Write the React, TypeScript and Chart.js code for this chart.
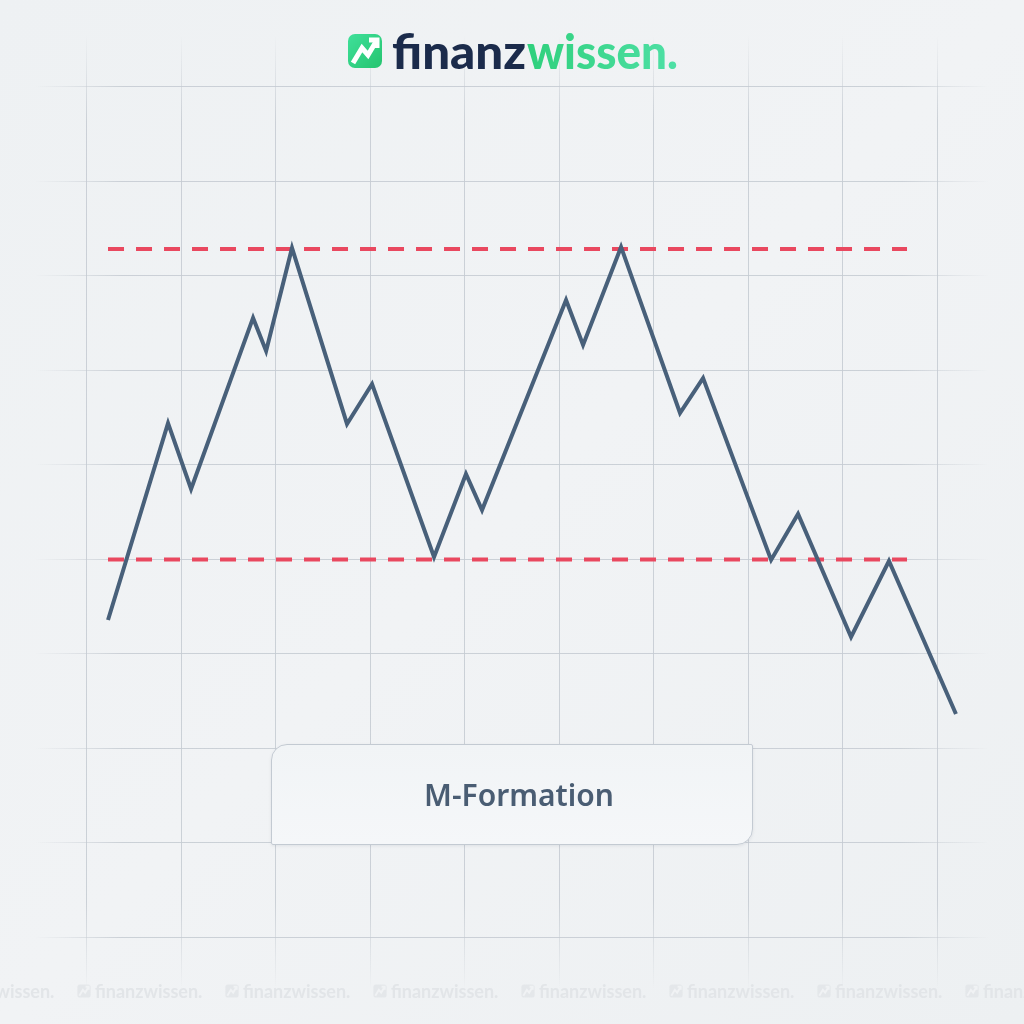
import React, { useEffect, useRef } from "react";
import { Chart, registerables } from "chart.js";

Chart.register(...registerables);

// ---- data ----
const timeValues = [0.225, 0.86, 1.104, 1.76, 1.898, 2.172, 2.754, 3.019, 3.675, 4.013, 4.183, 5.072, 5.252, 5.654, 6.278, 6.522, 7.242, 7.527, 8.088, 8.489, 9.198];
const priceValues = [3.357, 5.439, 4.743, 6.553, 6.204, 7.293, 5.431, 5.854, 4.023, 4.901, 4.52, 6.743, 6.267, 7.304, 5.547, 5.917, 3.992, 4.479, 3.177, 3.981, 2.362];
const resistanceLevel = 7.283;
const supportLevel = 3.998;
const levelStart = 0.225;
const levelEnd = 8.68;
const gridTicks = [0, 1, 2, 3, 4, 5, 6, 7, 8, 9];
const xRange = [-0.918, 9.918];
const yRange = [-0.918, 9.917];
const labelText = "M-Formation";
const brandDark = "finanz";
const brandGreen = "wissen.";
const watermarkCount = 8;

const LINE_COLOR = "#48607a";
const LEVEL_COLOR = "#e9485f";
const GRID_RGB = "196,202,209";

function fadeGradient(ctx: CanvasRenderingContext2D, vertical: boolean) {
  const g = vertical ? ctx.createLinearGradient(0, 0, 0, 1024) : ctx.createLinearGradient(0, 0, 1024, 0);
  g.addColorStop(0.035, `rgba(${GRID_RGB},0)`);
  g.addColorStop(0.12, `rgba(${GRID_RGB},0.85)`);
  g.addColorStop(0.88, `rgba(${GRID_RGB},0.85)`);
  g.addColorStop(0.965, `rgba(${GRID_RGB},0)`);
  return g;
}

function Icon({ size, color, stroke }: { size: number; color: string; stroke: string }) {
  return (
    <svg width={size} height={size} viewBox="0 0 36 36" style={{ display: "block" }}>
      <defs>
        <linearGradient id={"ig" + size} x1="0" y1="0" x2="1" y2="1">
          <stop offset="0" stopColor={color === "grad" ? "#3fe09a" : color} />
          <stop offset="1" stopColor={color === "grad" ? "#25c46f" : color} />
        </linearGradient>
      </defs>
      <rect x="1" y="1" width="34" height="34" rx="7" fill={`url(#ig${size})`} />
      <path d="M6 30 L15 15 L21 22 L30 7" fill="none" stroke={stroke} strokeWidth="5" strokeLinejoin="miter" />
      <path d="M22 7 L30 7 L30 15" fill="none" stroke={stroke} strokeWidth="5" />
    </svg>
  );
}

export default function App() {
  const canvasRef = useRef<HTMLCanvasElement | null>(null);

  useEffect(() => {
    const canvas = canvasRef.current;
    if (!canvas) return;
    const ctx = canvas.getContext("2d")!;
    const linePoints = timeValues.map((t, i) => ({ x: t, y: priceValues[i] }));
    const chart = new Chart(ctx, {
      type: "line",
      data: {
        datasets: [
          {
            data: linePoints,
            borderColor: LINE_COLOR,
            borderWidth: 4,
            pointRadius: 0,
            tension: 0,
            borderJoinStyle: "miter",
            borderCapStyle: "butt",
          },
          {
            data: [{ x: levelStart, y: resistanceLevel }, { x: levelEnd, y: resistanceLevel }],
            borderColor: LEVEL_COLOR,
            borderWidth: 4,
            borderDash: [16, 12],
            pointRadius: 0,
          },
          {
            data: [{ x: levelStart, y: supportLevel }, { x: levelEnd, y: supportLevel }],
            borderColor: LEVEL_COLOR,
            borderWidth: 4,
            borderDash: [16, 12],
            pointRadius: 0,
          },
        ],
      },
      options: {
        animation: false,
        responsive: false,
        maintainAspectRatio: false,
        layout: { padding: 0 },
        plugins: { legend: { display: false }, tooltip: { enabled: false }, title: { display: false } },
        scales: {
          x: {
            type: "linear",
            min: xRange[0],
            max: xRange[1],
            afterBuildTicks: (scale: any) => {
              scale.ticks = gridTicks.map((v) => ({ value: v }));
            },
            ticks: { display: false },
            border: { display: false },
            grid: { drawTicks: false, lineWidth: 1, color: (c: any) => fadeGradient(c.chart.ctx, true) },
          },
          y: {
            type: "linear",
            min: yRange[0],
            max: yRange[1],
            afterBuildTicks: (scale: any) => {
              scale.ticks = gridTicks.map((v) => ({ value: v }));
            },
            ticks: { display: false },
            border: { display: false },
            grid: { drawTicks: false, lineWidth: 1, color: (c: any) => fadeGradient(c.chart.ctx, false) },
          },
        },
      },
    } as any);
    return () => chart.destroy();
  }, []);

  return (
    <div
      style={{
        position: "fixed",
        left: 0,
        top: 0,
        width: 1024,
        height: 1024,
        overflow: "hidden",
        background: "linear-gradient(135deg, #eef1f3 0%, #f1f3f5 50%, #edf0f2 100%)",
      }}
    >
      <canvas ref={canvasRef} width={1024} height={1024} style={{ position: "absolute", left: 0, top: 0, width: 1024, height: 1024 }} />

      {/* brand logo */}
      <div style={{ position: "absolute", left: 347, top: 33 }}>
        <Icon size={36} color="grad" stroke="#ffffff" />
      </div>
      <svg width={320} height={60} style={{ position: "absolute", left: 385, top: 20 }}>
        <defs>
          <linearGradient id="gw" x1="0" y1="0" x2="1" y2="0">
            <stop offset="0" stopColor="#2fd07c" />
            <stop offset="1" stopColor="#4fe0a6" />
          </linearGradient>
        </defs>
        <text x={7} y={49} textLength={134} lengthAdjust="spacingAndGlyphs" fontFamily="Lato" fontWeight={900} fontSize={47} fill="#1b2b4b">
          {brandDark}
        </text>
        <text x={142} y={49} textLength={151} lengthAdjust="spacingAndGlyphs" fontFamily="Lato" fontWeight={900} fontSize={47} fill="url(#gw)">
          {brandGreen}
        </text>
      </svg>

      {/* label box */}
      <div
        style={{
          position: "absolute",
          left: 271,
          top: 744,
          width: 482,
          height: 101,
          boxSizing: "border-box",
          border: "1.5px solid #c3cad2",
          borderRadius: "16px 2px 16px 2px",
          background: "linear-gradient(180deg, #f1f4f6 0%, #f5f7f9 100%)",
          boxShadow: "0 1px 3px rgba(120,130,140,0.15)",
          display: "flex",
          alignItems: "center",
          justifyContent: "center",
          paddingLeft: 14,
          fontFamily: "'Noto Sans', sans-serif",
          fontWeight: 600,
          fontSize: 30,
          color: "#4a5d73",
        }}
      >
        {labelText}
      </div>

      {/* watermark row */}
      <div style={{ position: "absolute", left: -71, top: 980, display: "flex", whiteSpace: "nowrap" }}>
        {Array.from({ length: watermarkCount }).map((_, i) => (
          <div key={i} style={{ width: 148, display: "flex", alignItems: "center", gap: 4 }}>
            <Icon size={14} color="#e4e7ea" stroke="#f0f2f4" />
            <span style={{ fontFamily: "Lato", fontWeight: 700, fontSize: 18, color: "#e2e5e8" }}>finanzwissen.</span>
          </div>
        ))}
      </div>
    </div>
  );
}
